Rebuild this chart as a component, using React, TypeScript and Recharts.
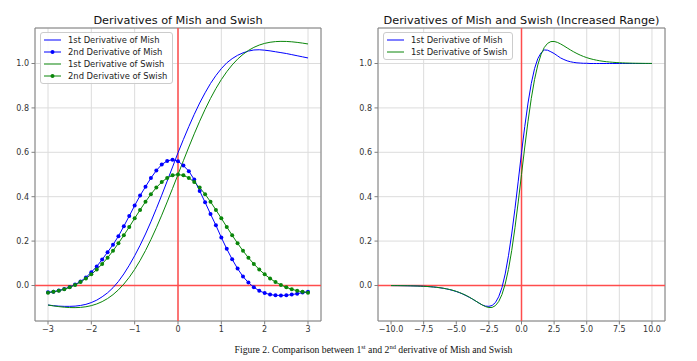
import React from 'react';
import { LineChart, Line, XAxis, YAxis, CartesianGrid, ReferenceLine, ReferenceArea, Legend } from 'recharts';

// left panel, x from -3 to 3
const xLeft = [
  -3, -2.875, -2.75, -2.625, -2.5, -2.375, -2.25, -2.125, -2, -1.875, -1.75, -1.625, -1.5,
  -1.375, -1.25, -1.125, -1, -0.875, -0.75, -0.625, -0.5, -0.375, -0.25, -0.125, 0,
  0.125, 0.25, 0.375, 0.5, 0.625, 0.75, 0.875, 1, 1.125, 1.25, 1.375, 1.5,
  1.625, 1.75, 1.875, 2, 2.125, 2.25, 2.375, 2.5, 2.625, 2.75, 2.875, 3,
];
const mish1Left = [
  -0.088, -0.091, -0.093, -0.094, -0.094, -0.093, -0.09, -0.085, -0.077, -0.066, -0.051, -0.033, -0.01,
  0.018, 0.052, 0.091, 0.134, 0.181, 0.232, 0.287, 0.346, 0.407, 0.47, 0.534, 0.598,
  0.658, 0.716, 0.771, 0.822, 0.868, 0.91, 0.946, 0.977, 1.003, 1.022, 1.037, 1.048,
  1.056, 1.061, 1.062, 1.06, 1.057, 1.053, 1.049, 1.045, 1.04, 1.035, 1.03, 1.025,
];
const mish2Left = [
  -0.031, -0.028, -0.023, -0.016, -0.007, 0.004, 0.018, 0.036, 0.06, 0.086, 0.117, 0.15, 0.184,
  0.222, 0.267, 0.313, 0.36, 0.405, 0.445, 0.484, 0.518, 0.545, 0.561, 0.567, 0.56,
  0.54, 0.515, 0.477, 0.426, 0.375, 0.322, 0.271, 0.216, 0.165, 0.118, 0.076, 0.04,
  0.013, -0.008, -0.024, -0.034, -0.041, -0.044, -0.045, -0.044, -0.041, -0.037, -0.032, -0.028,
];
const swish1Left = [
  -0.0881, -0.0919, -0.0952, -0.0978, -0.0994, -0.0998, -0.0987, -0.0958, -0.0908, -0.0832, -0.0727, -0.0588, -0.0413,
  -0.0197, 0.0063, 0.0369, 0.0723, 0.1125, 0.1574, 0.2067, 0.26, 0.3168, 0.3763, 0.4377, 0.5,
  0.5623, 0.6237, 0.6832, 0.74, 0.7933, 0.8426, 0.8875, 0.9277, 0.9631, 0.9937, 1.0197, 1.0413,
  1.0588, 1.0727, 1.0832, 1.0908, 1.0958, 1.0987, 1.0998, 1.0994, 1.0978, 1.0952, 1.0919, 1.0881,
];
const swish2Left = [
  -0.0323, -0.0287, -0.0237, -0.017, -0.0085, 0.0023, 0.0154, 0.0313, 0.0501, 0.0719, 0.0969, 0.125, 0.1562,
  0.1901, 0.2262, 0.2639, 0.3024, 0.3405, 0.3772, 0.4112, 0.4412, 0.466, 0.4846, 0.4961, 0.5,
  0.4961, 0.4846, 0.466, 0.4412, 0.4112, 0.3772, 0.3405, 0.3024, 0.2639, 0.2262, 0.1901, 0.1562,
  0.125, 0.0969, 0.0719, 0.0501, 0.0313, 0.0154, 0.0023, -0.0085, -0.017, -0.0237, -0.0287, -0.0323,
];

// right panel, x from -10 to 10
const xRight = [
  -10, -9.75, -9.5, -9.25, -9, -8.75, -8.5, -8.25, -8, -7.75, -7.5, -7.25, -7, -6.75,
  -6.5, -6.25, -6, -5.75, -5.5, -5.25, -5, -4.75, -4.5, -4.25, -4, -3.75, -3.5, -3.25,
  -3, -2.75, -2.5, -2.25, -2, -1.75, -1.5, -1.25, -1, -0.75, -0.5, -0.25, 0,
  0.25, 0.5, 0.75, 1, 1.25, 1.5, 1.75, 2, 2.25, 2.5, 2.75, 3,
  3.25, 3.5, 3.75, 4, 4.25, 4.5, 4.75, 5, 5.25, 5.5, 5.75, 6, 6.25, 6.5,
  6.75, 7, 7.25, 7.5, 7.75, 8, 8.25, 8.5, 8.75, 9, 9.25, 9.5, 9.75, 10,
];
const mish1Right = [
  -0.0004, -0.0005, -0.0006, -0.0008, -0.001, -0.0012, -0.0015, -0.0019, -0.0023, -0.0029, -0.0036, -0.0045, -0.0056, -0.0068,
  -0.0084, -0.0103, -0.0126, -0.0154, -0.0187, -0.0226, -0.0271, -0.0325, -0.0386, -0.0455, -0.0532, -0.0615, -0.0704, -0.0794,
  -0.088, -0.093, -0.094, -0.09, -0.077, -0.051, -0.01, 0.052, 0.134, 0.232, 0.346, 0.47, 0.598,
  0.716, 0.822, 0.91, 0.977, 1.022, 1.048, 1.061, 1.06, 1.053, 1.045, 1.035, 1.025,
  1.018, 1.012, 1.008, 1.005, 1.003, 1.002, 1.001, 1.001, 1.0, 1.0, 1.0, 1.0, 1.0, 1.0,
  1.0, 1.0, 1.0, 1.0, 1.0, 1.0, 1.0, 1.0, 1.0, 1.0, 1.0, 1.0, 1.0, 1.0,
];
const swish1Right = [
  -0.0004, -0.0005, -0.0006, -0.0008, -0.001, -0.0012, -0.0015, -0.0019, -0.0023, -0.0029, -0.0036, -0.0044, -0.0055, -0.0067,
  -0.0082, -0.0101, -0.0123, -0.015, -0.0182, -0.022, -0.0265, -0.0318, -0.0379, -0.0449, -0.0527, -0.0612, -0.0703, -0.0795,
  -0.0881, -0.0952, -0.0994, -0.0987, -0.0908, -0.0727, -0.0413, 0.0063, 0.0723, 0.1574, 0.26, 0.3763, 0.5,
  0.6237, 0.74, 0.8426, 0.9277, 0.9937, 1.0413, 1.0727, 1.0908, 1.0987, 1.0994, 1.0952, 1.0881,
  1.0795, 1.0703, 1.0612, 1.0527, 1.0449, 1.0379, 1.0318, 1.0265, 1.022, 1.0182, 1.015, 1.0123, 1.0101, 1.0082,
  1.0067, 1.0055, 1.0044, 1.0036, 1.0029, 1.0023, 1.0019, 1.0015, 1.0012, 1.001, 1.0008, 1.0006, 1.0005, 1.0004,
];

const yTicks = [0, 0.2, 0.4, 0.6, 0.8, 1.0];
const xTicksLeft = [-3, -2, -1, 0, 1, 2, 3];
const xTicksRight = [-10, -7.5, -5, -2.5, 0, 2.5, 5, 7.5, 10];
const legendOrder = ['mish1', 'mish2', 'swish1', 'swish2'];

const leftData = xLeft.map((x, i) => ({
  x,
  mish1: mish1Left[i],
  mish2: mish2Left[i],
  swish1: swish1Left[i],
  swish2: swish2Left[i],
}));
const rightData = xRight.map((x, i) => ({ x, mish1: mish1Right[i], swish1: swish1Right[i] }));

const BLUE = '#0000ff';
const GREEN = '#0a860a';
const RED = '#ff4d4d';
const SPINE = '#808080';
const FONT = '"DejaVu Sans", sans-serif';

const minus = (s: string) => s.replace('-', '\u2212');

const LegendBox = ({ payload, dotted }: any) => (
  <div
    style={{
      border: '1px solid #cccccc',
      borderRadius: 3,
      background: 'rgba(255,255,255,0.85)',
      padding: '1px 5px 1px 3px',
      fontFamily: FONT,
    }}
  >
    {(payload || []).map((entry: any) => (
      <div key={entry.value} style={{ display: 'flex', alignItems: 'center', height: 12 }}>
        <svg width={17} height={12} style={{ marginRight: 7 }}>
          <line x1={0} y1={6} x2={17} y2={6} stroke={entry.color} strokeWidth={1} />
          {dotted.includes(entry.dataKey) && <circle cx={8.5} cy={6} r={2} fill={entry.color} />}
        </svg>
        <span style={{ fontSize: 8.4, color: '#222', lineHeight: '12px', whiteSpace: 'nowrap' }}>{entry.value}</span>
      </div>
    ))}
  </div>
);

const tickStyle = { fontSize: 8, fill: '#333', fontFamily: FONT };

const Title = ({ text, center }: { text: string; center: number }) => (
  <div
    style={{
      position: 'absolute',
      left: center - 200,
      width: 400,
      top: 14,
      textAlign: 'center',
      fontFamily: FONT,
      fontSize: 11.3,
      lineHeight: '14px',
      color: '#111',
    }}
  >
    {text}
  </div>
);

export default function App() {
  return (
    <div
      style={{
        position: 'absolute',
        left: 0,
        top: 0,
        width: 697,
        height: 361,
        background: '#fff',
        overflow: 'hidden',
      }}
    >
      <Title text="Derivatives of Mish and Swish" center={178} />
      <Title text="Derivatives of Mish and Swish (Increased Range)" center={521.5} />

      <div style={{ position: 'absolute', left: 0, top: 0 }}>
        <LineChart width={340} height={345} data={leftData} margin={{ top: 28, right: 19, bottom: 4, left: 5 }}>
          <CartesianGrid stroke="#dcdcdc" />
          <XAxis
            dataKey="x"
            type="number"
            domain={[-3.3, 3.3]}
            ticks={xTicksLeft}
            allowDataOverflow
            height={20}
            tickSize={3.5}
            tickMargin={1.5}
            axisLine={false}
            tickLine={{ stroke: SPINE }}
            tick={tickStyle}
            tickFormatter={(v: number) => minus(String(v))}
          />
          <YAxis
            type="number"
            domain={[-0.16, 1.16]}
            ticks={yTicks}
            allowDataOverflow
            width={30}
            tickSize={3.5}
            tickMargin={2.5}
            axisLine={false}
            tickLine={{ stroke: SPINE }}
            tick={tickStyle}
            tickFormatter={(v: number) => minus(v.toFixed(1))}
          />
          <ReferenceLine x={0} stroke={RED} strokeWidth={1.5} />
          <ReferenceLine y={0} stroke={RED} strokeWidth={1.5} />
          <Line name="1st Derivative of Mish" dataKey="mish1" stroke={BLUE} strokeWidth={1} dot={false} activeDot={false} isAnimationActive={false} />
          <Line
            name="2nd Derivative of Mish"
            dataKey="mish2"
            stroke={BLUE}
            strokeWidth={1}
            dot={{ r: 2, fill: BLUE, stroke: BLUE, strokeWidth: 0 }}
            activeDot={false}
            isAnimationActive={false}
          />
          <Line name="1st Derivative of Swish" dataKey="swish1" stroke={GREEN} strokeWidth={1} dot={false} activeDot={false} isAnimationActive={false} />
          <Line
            name="2nd Derivative of Swish"
            dataKey="swish2"
            stroke={GREEN}
            strokeWidth={1}
            dot={{ r: 2, fill: GREEN, stroke: GREEN, strokeWidth: 0 }}
            activeDot={false}
            isAnimationActive={false}
          />
          <ReferenceArea x1={-3.3} x2={3.3} y1={-0.16} y2={1.16} fill="none" stroke={SPINE} strokeWidth={1} />
          <Legend
            layout="vertical"
            align="center"
            verticalAlign="middle"
            itemSorter={(item: any) => legendOrder.indexOf(item.dataKey)}
            wrapperStyle={{ left: 40, top: 32, width: 'auto', height: 'auto' }}
            content={(p: any) => <LegendBox payload={p.payload} dotted={['mish2', 'swish2']} />}
          />
        </LineChart>
      </div>

      <div style={{ position: 'absolute', left: 340, top: 0 }}>
        <LineChart width={357} height={345} data={rightData} margin={{ top: 28, right: 32, bottom: 4, left: 8 }}>
          <CartesianGrid stroke="#dcdcdc" />
          <XAxis
            dataKey="x"
            type="number"
            domain={[-11, 11]}
            ticks={xTicksRight}
            allowDataOverflow
            height={20}
            tickSize={3.5}
            tickMargin={1.5}
            axisLine={false}
            tickLine={{ stroke: SPINE }}
            tick={tickStyle}
            tickFormatter={(v: number) => minus(v.toFixed(1))}
          />
          <YAxis
            type="number"
            domain={[-0.16, 1.16]}
            ticks={yTicks}
            allowDataOverflow
            width={30}
            tickSize={3.5}
            tickMargin={2.5}
            axisLine={false}
            tickLine={{ stroke: SPINE }}
            tick={tickStyle}
            tickFormatter={(v: number) => minus(v.toFixed(1))}
          />
          <ReferenceLine x={0} stroke={RED} strokeWidth={1.5} />
          <ReferenceLine y={0} stroke={RED} strokeWidth={1.5} />
          <Line name="1st Derivative of Mish" dataKey="mish1" stroke={BLUE} strokeWidth={1} dot={false} activeDot={false} isAnimationActive={false} />
          <Line name="1st Derivative of Swish" dataKey="swish1" stroke={GREEN} strokeWidth={1} dot={false} activeDot={false} isAnimationActive={false} />
          <ReferenceArea x1={-11} x2={11} y1={-0.16} y2={1.16} fill="none" stroke={SPINE} strokeWidth={1} />
          <Legend
            layout="vertical"
            align="center"
            verticalAlign="middle"
            itemSorter={(item: any) => legendOrder.indexOf(item.dataKey)}
            wrapperStyle={{ left: 43, top: 32, width: 'auto', height: 'auto' }}
            content={(p: any) => <LegendBox payload={p.payload} dotted={[]} />}
          />
        </LineChart>
      </div>

      <div
        style={{
          position: 'absolute',
          left: 50,
          width: 647,
          top: 341,
          textAlign: 'center',
          fontFamily: '"Liberation Serif", serif',
          fontSize: 9.7,
          lineHeight: '12px',
          color: '#111',
        }}
      >
        Figure 2. Comparison between 1<sup style={{ fontSize: 6.5 }}>st</sup> and 2<sup style={{ fontSize: 6.5 }}>nd</sup> derivative of Mish and Swish
      </div>
    </div>
  );
}
